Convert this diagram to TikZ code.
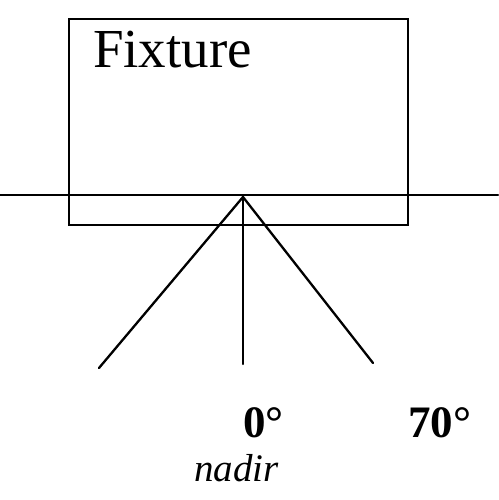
\documentclass[tikz,border=0pt]{standalone}
\usepackage{fontspec}
\setmainfont{Liberation Serif}
\begin{document}
\begin{tikzpicture}[x=1pt,y=1pt,
  ln/.style={line width=2.3pt,line cap=round,line join=miter},
  lbl/.style={anchor=base west,inner sep=0pt,outer sep=0pt}]
\useasboundingbox (0,0) rectangle (498,500);
\draw[ln] (69,275) rectangle (408,481);
\coordinate (hl) at (0,305);
\coordinate (hr) at (498,305);
\draw[ln] (hl) -- (hr);
\coordinate (apex) at (243,303);
\coordinate (el) at (99,132);
\coordinate (ec) at (243,136);
\coordinate (er) at (373,137);
\draw[ln] (apex) -- (el);
\draw[ln] (apex) -- (ec);
\draw[ln] (apex) -- (er);
\node[lbl,font=\fontsize{55}{62}\selectfont] (fix) at (93,432) {Fixture};
\node[lbl,font=\fontsize{45}{52}\selectfont\bfseries] (zero) at (243,62) {0°};
\node[lbl,font=\fontsize{45}{52}\selectfont\bfseries] (seventy) at (408,62) {70°};
\node[lbl,font=\fontsize{39}{46}\selectfont\itshape] (nadir) at (194,18) {nadir};
\end{tikzpicture}
\end{document}
